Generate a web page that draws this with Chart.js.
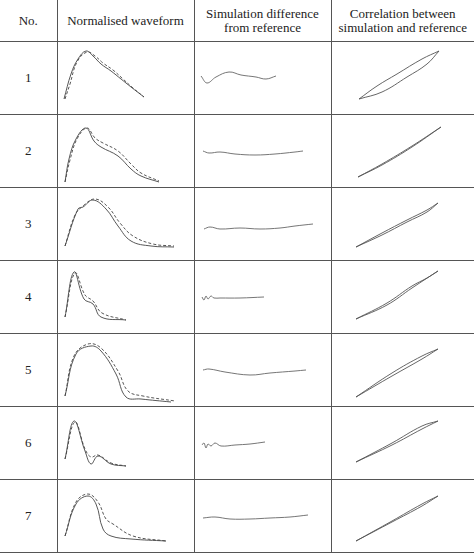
<!DOCTYPE html>
<html lang="en">
<head>
<meta charset="UTF-8">
<title>Waveform comparison table</title>
<script src="https://cdn.jsdelivr.net/npm/chart.js"></script>
<style>
  body { margin: 0; background: #fff; font-family: "Liberation Serif", "DejaVu Serif", serif; }
  table { border-collapse: collapse; table-layout: fixed; }
  td { border: 1px solid #555; padding: 0; text-align: center; font-size: 13px; color: #222; }
  tr td:first-child { border-left: none; }
  tr td:last-child { border-right: none; }
  tr:first-child td { border-top: none; height: 41px; line-height: 14px; }
  td.c { height: 72px; }
  canvas { display: block; }
</style>
</head>
<body>
<table id="tbl">
  <colgroup><col style="width:57px"><col style="width:137px"><col style="width:137px"><col style="width:143px"></colgroup>
  <tr><td>No.</td><td>Normalised waveform</td><td>Simulation difference<br>from reference</td><td>Correlation between<br>simulation and reference</td></tr>
</table>
<script>
// waveform, simulation (solid) and reference (dashed), one array per row, [x, y]
const waveSim = [
  [[6,15],[13,40],[20,55],[28,63],[35,58],[43,50],[53,43],[63,35],[73,27],[86,17]],
  [[7,5],[11,28],[18,48],[28,59],[36,46],[43,40],[60,31],[73,18],[83,11],[101,5]],
  [[7,14],[20,51],[25,53],[35,60],[48,51],[60,34],[73,19],[93,14],[116,13]],
  [[7,16],[16,61],[26,34],[35,29],[43,16],[68,13]],
  [[7,10],[18,52],[33,60],[43,55],[58,32],[68,9],[83,7],[113,4]],
  [[7,20],[16,58],[27,28],[33,15],[40,23],[53,15],[68,13]],
  [[7,16],[18,48],[30,56],[38,48],[45,23],[53,16],[73,13],[108,11]]
];
const waveRef = [
  [[7,15],[12,30],[19,52],[29,62],[37,58],[45,51],[55,44],[65,35],[75,26],[86,17]],
  [[7,5],[12,27],[19,48],[29,59],[37,49],[45,44],[60,36],[73,23],[83,14],[101,6]],
  [[7,14],[17,45],[25,54],[37,61],[50,53],[62,37],[75,24],[95,16],[116,14]],
  [[7,16],[17,60],[27,38],[35,32],[44,20],[68,13]],
  [[7,10],[16,50],[30,62],[43,58],[60,35],[70,15],[85,10],[117,5]],
  [[7,20],[17,57],[27,30],[33,22],[40,24],[53,16],[68,13]],
  [[7,16],[18,50],[30,58],[40,50],[48,33],[55,28],[75,16],[108,11]]
];
// simulation minus reference
const diff = [
  [[6,38],[12,31],[21,37],[34,42],[46,39],[61,37],[71,35],[81,38]],
  [[8,36],[14,34],[25,35],[40,33],[60,32],[80,33],[100,35],[108,36]],
  [[9,31],[15,33],[25,31],[45,32],[65,31],[85,32],[100,34],[118,36]],
  [[7,36],[9,33],[11,37],[13,34],[16,37],[19,35],[25,35],[45,35],[69,36]],
  [[8,36],[14,37],[30,34],[55,31],[75,33],[100,35],[111,36]],
  [[7,34],[9,36],[11,31],[13,35],[16,33],[20,36],[26,33],[40,34],[55,35],[70,37]],
  [[8,34],[20,35],[35,33],[55,33],[75,34],[95,35],[113,37]]
];
// correlation loops: rising branch then returning branch
const corrUp = [
  [[27,15],[50,22],[75,37],[95,50],[107,63]],
  [[26,10],[50,22],[80,40],[109,60]],
  [[24,13],[50,25],[75,38],[95,48],[106,57]],
  [[24,14],[55,28],[80,45],[106,62]],
  [[24,9],[60,30],[90,47],[106,57]],
  [[24,17],[60,34],[90,50],[106,58]],
  [[24,11],[60,30],[90,46],[106,56]]
];
const corrDown = [
  [[107,63],[90,55],[65,40],[45,28],[27,15]],
  [[109,60],[80,41],[50,23],[26,10]],
  [[106,57],[95,50],[75,40],[50,27],[24,13]],
  [[106,62],[95,55],[80,47],[55,30],[24,14]],
  [[106,57],[90,50],[60,33],[24,9]],
  [[106,58],[90,53],[60,36],[24,17]],
  [[106,56],[90,48],[60,31],[24,11]]
];
const rowLabels = ['1','2','3','4','5','6','7'];

function line(pts, dash, col) {
  return { data: pts.map(p => ({x: p[0], y: p[1]})), showLine: true, borderColor: col || '#444',
    borderWidth: 0.9, borderDash: dash || [], pointRadius: 0, tension: 0.4, fill: false };
}
function mini(td, w, datasets) {
  const c = document.createElement('canvas');
  c.width = w; c.height = 72;
  td.appendChild(c);
  new Chart(c, {
    type: 'scatter',
    data: { datasets: datasets },
    options: {
      responsive: false, animation: false, events: [],
      layout: { padding: 0 },
      plugins: { legend: { display: false }, tooltip: { enabled: false } },
      scales: {
        x: { type: 'linear', min: 0, max: w, display: false },
        y: { type: 'linear', min: 0, max: 72, display: false }
      }
    }
  });
}

const tbl = document.getElementById('tbl');
rowLabels.forEach((lab, i) => {
  const tr = tbl.insertRow();
  const t0 = tr.insertCell(); t0.className = 'c'; t0.textContent = lab;
  const t1 = tr.insertCell(); t1.className = 'c';
  const t2 = tr.insertCell(); t2.className = 'c';
  const t3 = tr.insertCell(); t3.className = 'c';
  mini(t1, 136, [line(waveSim[i]), line(waveRef[i], [3, 2])]);
  mini(t2, 136, [line(diff[i], null, '#666')]);
  mini(t3, 142, [line(corrUp[i], null, '#555'), line(corrDown[i], null, '#555')]);
});
</script>
</body>
</html>
